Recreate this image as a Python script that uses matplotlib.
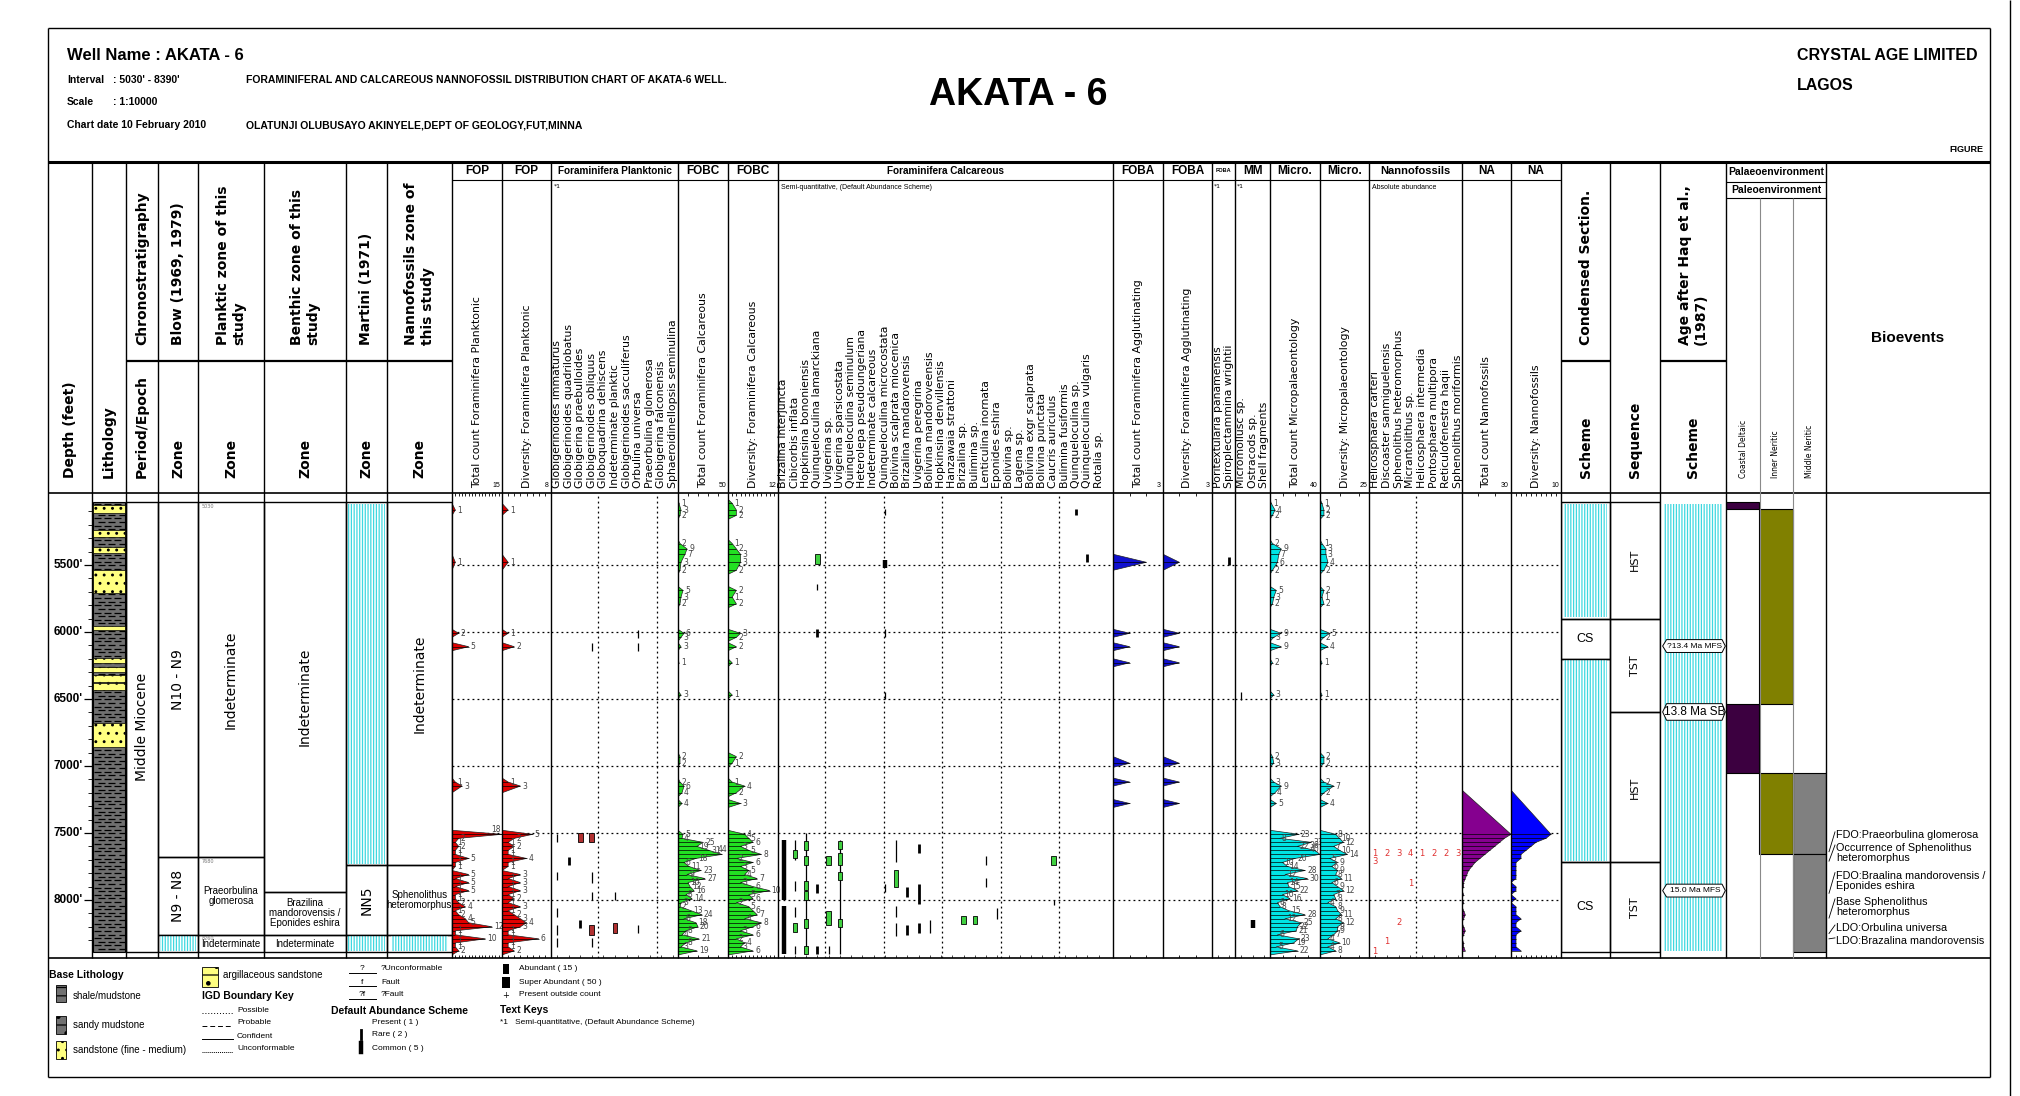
import numpy as np
import matplotlib
matplotlib.use("Agg")
import matplotlib.pyplot as plt
from matplotlib.patches import Rectangle, Polygon
from matplotlib.collections import LineCollection
from matplotlib.transforms import blended_transform_factory

# ---------------- sample depths (feet) ----------------
S_UP = [5040, 5090, 5130, 5340, 5380, 5420, 5480, 5540, 5690, 5740, 5790,
        6010, 6040, 6110, 6230, 6470, 6930, 6980, 7120, 7150, 7200, 7280]
S_DN = [7510, 7540, 7570, 7600, 7630, 7660, 7690, 7720, 7750, 7780,
        7810, 7840, 7870, 7900, 7930, 7960, 7990, 8020, 8050, 8080,
        8110, 8140, 8170, 8200, 8230, 8260, 8290, 8320, 8350, 8380]
foram_depth = S_UP + S_DN
nanno_depth = [7180] + S_DN

# ---------------- counts / diversity ----------------
fop_total = [0, 1, 0, 0, 0, 0, 1, 0, 0, 0, 0, 2, 0, 5, 0, 0, 0, 0, 1, 3, 0, 0,
             18, 2, 1, 2, 1, 1, 5, 1, 1, 0, 5, 1, 5, 1, 5, 1, 1, 2, 4, 1,
             2, 4, 5, 12, 1, 1, 10, 1, 1, 2]
fop_div = [0, 1, 0, 0, 0, 0, 1, 0, 0, 0, 0, 1, 0, 2, 0, 0, 0, 0, 1, 3, 0, 0,
           5, 2, 1, 2, 1, 1, 4, 1, 1, 0, 3, 1, 3, 1, 3, 1, 2, 1, 3, 1,
           2, 3, 4, 3, 1, 1, 6, 1, 1, 2]
fobc_total = [1, 3, 2, 2, 9, 7, 3, 2, 5, 3, 2, 6, 3, 3, 1, 3, 2, 2, 2, 6, 4, 4,
              5, 4, 25, 19, 31, 44, 18, 6, 11, 23, 9, 27, 10, 12, 16, 8, 14, 3, 2, 13,
              24, 6, 18, 20, 8, 4, 21, 8, 3, 19]
fobc_div = [1, 2, 2, 1, 2, 3, 3, 2, 2, 1, 2, 3, 2, 2, 1, 1, 2, 1, 1, 4, 2, 3,
            4, 5, 6, 3, 5, 8, 2, 6, 3, 5, 4, 7, 3, 6, 10, 5, 6, 2, 5, 6,
            7, 4, 8, 6, 3, 6, 2, 4, 3, 6]
foba_total = [0, 0, 0, 0, 0, 0, 2, 0, 0, 0, 0, 1, 0, 1, 1, 0, 0, 1, 1, 0, 0, 1,
              0, 0, 0, 0, 0, 0, 0, 0, 0, 0, 0, 0, 0, 0, 0, 0, 0, 0, 0, 0,
              0, 0, 0, 0, 0, 0, 0, 0, 0, 0]
foba_div = [0, 0, 0, 0, 0, 0, 1, 0, 0, 0, 0, 1, 0, 1, 1, 0, 0, 1, 1, 0, 0, 1,
            0, 0, 0, 0, 0, 0, 0, 0, 0, 0, 0, 0, 0, 0, 0, 0, 0, 0, 0, 0,
            0, 0, 0, 0, 0, 0, 0, 0, 0, 0]
micro_total = [1, 4, 2, 2, 9, 7, 6, 2, 5, 3, 2, 9, 3, 9, 2, 3, 2, 3, 3, 9, 4, 5,
               23, 8, 33, 22, 36, 40, 20, 10, 14, 28, 12, 30, 14, 15, 22, 10, 16, 6, 8, 15,
               28, 12, 25, 22, 21, 6, 23, 19, 5, 22]
micro_div = [1, 2, 2, 1, 3, 3, 4, 2, 2, 1, 2, 5, 2, 4, 1, 1, 2, 2, 2, 7, 2, 4,
             8, 10, 12, 7, 10, 14, 5, 9, 6, 9, 8, 11, 6, 9, 12, 7, 8, 4, 8, 9,
             11, 8, 12, 9, 9, 7, 4, 10, 4, 8]
na_total = [0, 30, 26, 23, 20, 17, 14, 11, 8, 6, 4, 3, 2, 1, 1, 0, 1, 0, 1, 0, 1,
            2, 1, 0, 1, 2, 1, 0, 1, 1, 2]
na_div = [0, 8, 7, 5, 4, 3, 2, 2, 1, 1, 1, 1, 1, 0, 1, 1, 0, 1, 0, 1, 1,
          1, 2, 1, 1, 2, 1, 1, 1, 1, 2]

# ---------------- species ----------------
plank_names = ['Globigerinoides immaturus', 'Globigerinoides quadrilobatus', 'Globigerina praebulloides',
               'Globigerinoides obliquus', 'Globoquadrina dehiscens', 'Indeterminate planktic',
               'Globigerinoides sacculiferus', 'Orbulina universa', 'Praeorbulina glomerosa',
               'Globigerina falconensis', 'Sphaeroidinellopsis seminulina']
calc_names = ['Brizalina interjuncta', 'Cibicorbis inflata', 'Hopkinsina bononiensis',
              'Quinqueloculina lamarckiana', 'Uvigerina sp.', 'Uvigerina sparsicostata',
              'Quinqueloculina seminulum', 'Heterolepa pseudoungeriana', 'Indeterminate calcareous',
              'Quinqueloculina microcostata', 'Bolivina scalprata miocenica', 'Brizalina mandarovensis',
              'Uvigerina peregrina', 'Bolivina mandoroveensis', 'Hopkinsina denvillensis',
              'Hanzawaia strattoni', 'Brizalina sp.', 'Bulimina sp.', 'Lenticulina inornata',
              'Eponides eshira', 'Bolivina sp.', 'Lagena sp.', 'Bolivina exgr scalprata',
              'Bolivina punctata', 'Caucris auriculus', 'Bulimina fusiformis',
              'Quinqueloculina sp.', 'Quinqueloculina vulgaris', 'Rotalia sp.']
foba_names = ['Poritextularia panamensis', 'Spiroplectammina wrightii']
mm_names = ['Micromollusc sp.', 'Ostracods sp.', 'Shell fragments']
nanno_names = ['Helicosphaera carteri', 'Discoaster sanmiguelensis', 'Sphenolithus heteromorphus',
               'Micrantolithus sp.', 'Helicosphaera intermedia', 'Pontosphaera multipora',
               'Reticulofenestra haqii', 'Sphenolithus moriformis']

# occurrences: (top, base, species index, kind) kind 1 present, 2 rare, 3 common, 4 abundant box
plank_occ = [(5985, 6045, 7, 1), (6085, 6145, 7, 1), (6085, 6145, 3, 1),
             (7505, 7565, 0, 1), (7500, 7565, 2, 4), (7500, 7565, 3, 4), (7680, 7740, 1, 2),
             (7790, 7850, 0, 1), (7790, 7875, 3, 1), (7940, 8000, 3, 1), (7940, 8000, 5, 1),
             (8060, 8125, 0, 1), (8150, 8210, 2, 2), (8190, 8260, 0, 1), (8190, 8260, 3, 4),
             (8170, 8250, 5, 4), (8190, 8250, 7, 1), (8285, 8350, 0, 1), (8285, 8350, 3, 1)]
calc_occ = [(7555, 8000, 0, 3), (8045, 8400, 0, 3),
            (7555, 7700, 1, 1), (7625, 7690, 1, 4), (7855, 7935, 1, 1), (8055, 8125, 1, 1),
            (8170, 8240, 1, 4), (8340, 8400, 1, 1),
            (7500, 8400, 2, 1), (7560, 7625, 2, 4), (7675, 7740, 2, 4), (7860, 7925, 2, 4),
            (7935, 8000, 2, 4), (8145, 8210, 2, 4), (8345, 8400, 2, 4),
            (5420, 5490, 3, 4), (5640, 5690, 3, 1), (5975, 6040, 3, 2), (7880, 7950, 3, 2), (8340, 8400, 3, 2),
            (7675, 7740, 4, 4), (8085, 8185, 4, 4), (8345, 8400, 4, 1),
            (7555, 8400, 5, 1), (7560, 7620, 5, 4), (7650, 7740, 5, 4), (7790, 7850, 5, 4), (8140, 8200, 5, 4),
            (5080, 5130, 9, 1), (5460, 5520, 9, 3), (5975, 6040, 9, 1), (6450, 6500, 9, 1), (7880, 7940, 9, 1),
            (7555, 7720, 10, 1), (7780, 7900, 10, 4), (8045, 8125, 10, 1), (8170, 8270, 10, 1),
            (7900, 7980, 11, 2), (8190, 8260, 11, 2),
            (7580, 7650, 12, 2), (7880, 8030, 12, 2), (8170, 8250, 12, 2),
            (8150, 8250, 13, 1), (8120, 8180, 16, 4), (8120, 8180, 17, 4),
            (7675, 7740, 18, 1), (7835, 7900, 18, 1), (8060, 8140, 19, 1),
            (7675, 7740, 24, 4), (8000, 8040, 24, 1),
            (5080, 5130, 26, 2), (5420, 5480, 27, 2)]
foba_occ = [(5440, 5500, 1, 2)]
mm_occ = [(6450, 6510, 0, 1), (8150, 8210, 1, 3)]

nanno_count_depth = [7655, 7655, 7655, 7655, 7655, 7655, 7655, 7655, 7710, 7875, 8165, 8310, 8385]
nanno_count_idx = [0, 1, 2, 3, 4, 5, 6, 7, 0, 3, 2, 1, 0]
nanno_count = [1, 2, 3, 4, 1, 2, 2, 3, 3, 1, 2, 1, 1]

# ---------------- zones ----------------
chrono_zones = [(5030, 8390, 'Middle Miocene')]
blow_zones = [(5030, 7680, 'N10 - N9'), (7680, 8260, 'N9 - N8'), (8260, 8390, '')]
planktic_zones = [(5030, 7680, 'Indeterminate'), (7680, 8260, 'Praeorbulina\nglomerosa'),
                  (8260, 8390, 'Indeterminate')]
benthic_zones = [(5030, 7940, 'Indeterminate'),
                 (7940, 8260, 'Brazilina\nmandorovensis /\nEponides eshira'),
                 (8260, 8390, 'Indeterminate')]
martini_zones = [(5030, 7740, ''), (7740, 8260, 'NN5'), (8260, 8390, '')]
nanno_zones = [(5030, 7740, 'Indeterminate'), (7740, 8260, 'Sphenolithus\nheteromorphus'),
               (8260, 8390, '')]
cs_zones = [(5030, 5900, ''), (5900, 6200, 'CS'), (6200, 7720, ''), (7720, 8390, 'CS')]
seq_zones = [(5030, 5900, 'HST'), (5900, 6600, 'TST'), (6600, 7720, 'HST'), (7720, 8390, 'TST')]
age_labels = ['?13.4 Ma MFS', '13.8 Ma SB', '15.0 Ma MFS']
age_depth = [6105, 6597, 7930]

sand_top = [5050, 5240, 5365, 5535, 5955, 6195, 6260, 6320, 6380, 6680]
sand_base = [5110, 5290, 5410, 5710, 5985, 6230, 6300, 6370, 6430, 6860]

paleo_env = ['Coastal Deltaic', 'Inner Neritic', 'Middle Neritic']
paleo_col = [0, 1, 0, 1, 2, 2]
paleo_top = [5030, 5085, 6535, 7050, 7050, 7660]
paleo_base = [5085, 6535, 7050, 7660, 7660, 8390]
paleo_color = ['#3c0040', '#808000', '#3c0040', '#808000', '#808080', '#808080']

bio_text = ['FDO:Praeorbulina glomerosa', 'Occurrence of Sphenolithus\nheteromorphus',
            'FDO:Braalina mandorovensis /\nEponides eshira', 'Base Sphenolithus\nheteromorphus',
            'LDO:Orbulina universa', 'LDO:Brazalina mandorovensis']
bio_depth = [7522, 7620, 7826, 8022, 8217, 8313]
bio_event_depth = [7640, 7710, 7950, 8135, 8250, 8290]

depth_major = [5500, 6000, 6500, 7000, 7500, 8000]

# ---------------- layout ----------------
W, H = 2020, 1096
Y_TOP, Y_BOT = 493, 958
D_TOP, D_BOT = 4963, 8433
NARROW = 'Liberation Sans'
NB = dict(family=NARROW, weight='bold')
CYAN = '#3fd8e0'
plt.rcParams['font.family'] = ['DejaVu Sans']
plt.rcParams['hatch.linewidth'] = 0.9

fig = plt.figure(figsize=(W / 100, H / 100), dpi=100, facecolor='white')
cv = fig.add_axes([0, 0, 1, 1])
cv.set_xlim(0, W)
cv.set_ylim(H, 0)
cv.axis('off')


def panel(x0, x1, xlim):
    ax = fig.add_axes([x0 / W, 1 - Y_BOT / H, (x1 - x0) / W, (Y_BOT - Y_TOP) / H])
    ax.set_xlim(*xlim)
    ax.set_ylim(D_BOT, D_TOP)
    ax.axis('off')
    return ax


def depth_grid(ax):
    for d in depth_major:
        ax.axhline(d, color='k', lw=0.9, ls=(0, (1.5, 2.5)), zorder=1)


def vtext(x, y, s, **kw):
    cv.text(x, y, s, rotation=90, ha='center', va='bottom', multialignment='left', **kw)


def top_label(x0, x1, s, size=None):
    if size is None:
        size = 8.5 if len(s) <= 6 else 7.2
    cv.text((x0 + x1) / 2, 171, s, ha='center', va='center', fontsize=size, **NB)


def spike_xy(depth, vals, gap):
    ys, xs = [], []
    n = len(depth)
    for i in range(n):
        if gap and (i == 0 or depth[i] - depth[i - 1] > gap):
            ys.append(depth[i] - gap / 2)
            xs.append(0)
        ys.append(depth[i])
        xs.append(vals[i])
        if gap and (i == n - 1 or depth[i + 1] - depth[i] > gap):
            ys.append(depth[i] + gap / 2)
            xs.append(0)
    return np.array(xs, float), np.array(ys, float)


def curve_panel(x0, x1, top, label, vmax, depth, vals, color, gap=60, numbers=True):
    ax = panel(x0, x1, (0, vmax))
    depth_grid(ax)
    xs, ys = spike_xy(depth, vals, gap)
    xs = np.minimum(xs, vmax)
    ax.fill_betweenx(ys, 0, xs, facecolor=color, edgecolor='none', zorder=2)
    ax.plot(xs, ys, color='#202020', lw=0.5, zorder=3)
    for d, v in zip(depth, vals):
        if v > 0:
            ax.hlines(d, 0, min(v, vmax), color='k', lw=0.5, zorder=3)
            if numbers:
                if v >= vmax * 0.85:
                    ax.text(vmax * 0.98, d, str(v), ha='right', va='bottom', fontsize=5.5,
                            color='#444444', zorder=4)
                else:
                    ax.text(v + vmax * 0.04, d, str(v), ha='left', va='center', fontsize=5.5,
                            color='#444444', zorder=4)
    step = 1 if vmax <= 15 else 10
    tk = np.arange(0, vmax + 0.1, step)
    ax.vlines(tk, D_TOP, D_TOP + 22, color='k', lw=0.6)
    ax.vlines(tk, D_BOT - 22, D_BOT, color='k', lw=0.6)
    top_label(x0, x1, top)
    vtext((x0 + x1) / 2, 488, label, fontsize=7.8)
    cv.text(x1 - 2, 489, str(vmax), ha='right', va='bottom', fontsize=5, family=NARROW)
    return ax


KIND_LW = {1: 0.9, 2: 2.0, 3: 3.2}


def species_panel(x0, x1, first, sp, top, names, occ, box_color, top_size=None):
    ax = panel(x0, x1, ((x0 - first) / sp, (x1 - first) / sp))
    depth_grid(ax)
    for xg in np.arange(x0 + 47, x1 - 3, 58.5):
        ax.axvline((xg - first) / sp, color='k', lw=0.9, ls=(0, (1.5, 2.5)), zorder=1)
    tr = blended_transform_factory(ax.transData, ax.transAxes)
    for i, n in enumerate(names):
        ax.text(i, (Y_BOT - 488) / (Y_BOT - Y_TOP), n, rotation=90, ha='center', va='bottom',
                fontsize=7.8, transform=tr, clip_on=False)
    for t, b, i, k in occ:
        if k == 4:
            ax.add_patch(Rectangle((i - 0.2, t), 0.4, b - t, facecolor=box_color,
                                   edgecolor='k', lw=0.6, zorder=3))
        else:
            ax.vlines(i, t, b, color='k', lw=KIND_LW[k], zorder=3)
    ax.vlines(np.arange(len(names)), D_BOT - 22, D_BOT, color='k', lw=0.5)
    top_label(x0, x1, top, top_size)
    return ax


def zone_panel(x0, x1, zones, tops=False):
    ax = panel(x0, x1, (0, 1))
    for top, base, lab in zones:
        if lab:
            mid = (top + base) / 2
            if base - top > 1000 or len(lab) <= 7:
                ax.text(0.5, mid, lab, rotation=90, ha='center', va='center', fontsize=10)
            else:
                ax.text(0.5, mid, lab, ha='center', va='center', fontsize=7, family=NARROW,
                        linespacing=1.0)
            if tops:
                ax.text(0.06, top + 12, str(top), ha='left', va='top', fontsize=3.5, color='#777777')
        else:
            ax.add_patch(Rectangle((0.06, top + 12), 0.88, base - top - 24, facecolor='white',
                                   edgecolor=CYAN, hatch='||||||', lw=0))
        ax.add_patch(Rectangle((0, top), 1, base - top, fill=False, edgecolor='k', lw=1.0))
    return ax


# ---------------- header band ----------------
cv.text(67, 56, 'Well Name : AKATA - 6', fontsize=12, va='center', **NB)
cv.text(67, 80, 'Interval', fontsize=7.5, va='center', **NB)
cv.text(113, 80, ": 5030' - 8390'", fontsize=7.5, va='center', **NB)
cv.text(67, 102, 'Scale', fontsize=7.5, va='center', **NB)
cv.text(113, 102, ': 1:10000', fontsize=7.5, va='center', **NB)
cv.text(67, 125, 'Chart date 10 February 2010', fontsize=7.5, va='center', **NB)
cv.text(246, 80, 'FORAMINIFERAL AND CALCAREOUS NANNOFOSSIL DISTRIBUTION CHART OF AKATA-6 WELL.',
        fontsize=7.5, va='center', **NB)
cv.text(246, 125, 'OLATUNJI OLUBUSAYO AKINYELE,DEPT OF GEOLOGY,FUT,MINNA', fontsize=7.5, va='center', **NB)
cv.text(1018, 95, 'AKATA - 6', fontsize=27, ha='center', va='center', **NB)
cv.text(1797, 56, 'CRYSTAL AGE LIMITED', fontsize=11.5, va='center', **NB)
cv.text(1797, 86, 'LAGOS', fontsize=11.5, va='center', **NB)
cv.text(1983, 149, 'FIGURE', fontsize=6.5, ha='right', va='center', **NB)

# ---------------- left header ----------------
left_x = [(48, 92), (92, 126), (126, 158), (158, 198), (198, 264), (264, 346), (346, 387), (387, 452)]
left_upper = ['', '', 'Chronostratigraphy', 'Blow (1969, 1979)', 'Planktic zone of this\nstudy',
              'Benthic zone of this\nstudy', 'Martini (1971)', 'Nannofossils zone of\nthis study']
left_lower = ['Depth (feet)', 'Lithology', 'Period/Epoch', 'Zone', 'Zone', 'Zone', 'Zone', 'Zone']
for (a, b), up, lo in zip(left_x, left_upper, left_lower):
    if up:
        vtext((a + b) / 2, 345, up, fontsize=10, weight='bold')
    vtext((a + b) / 2, 478, lo, fontsize=10, weight='bold')

# right header
vtext(1586, 345, 'Condensed Section.', fontsize=10, weight='bold')
vtext(1586, 478, 'Scheme', fontsize=10, weight='bold')
vtext(1635, 478, 'Sequence', fontsize=10, weight='bold')
vtext(1693, 345, 'Age after Haq et al.,\n(1987)', fontsize=10, weight='bold')
vtext(1693, 478, 'Scheme', fontsize=10, weight='bold')
cv.text(1776, 172, 'Palaeoenvironment', ha='center', va='center', fontsize=7.5, **NB)
cv.text(1776, 190, 'Paleoenvironment', ha='center', va='center', fontsize=7.5, **NB)
for xc, name in zip([1743, 1776, 1810], paleo_env):
    vtext(xc, 478, name, fontsize=5.5)
cv.text(1908, 338, 'Bioevents', ha='center', va='center', fontsize=11, **NB)

# ---------------- depth + lithology ----------------
axd = panel(48, 92, (0, 44))
minor = np.arange(5100, 8400, 100)
axd.hlines(minor, 40, 44, color='k', lw=0.6)
axd.hlines(depth_major, 36, 44, color='k', lw=0.9)
for d in depth_major:
    axd.text(35, d, f"{d}'", ha='right', va='center', fontsize=8.5, **NB)

axl = panel(92, 126, (0, 1))
axl.add_patch(Rectangle((0.02, 5030), 0.96, 3360, facecolor='#707070', edgecolor='k', lw=0.8))
segs = []
for r, y in enumerate(np.arange(5045, 8385, 27)):
    off = 0.12 if r % 2 else 0.0
    for x in (0.06, 0.36, 0.66):
        segs.append([(x + off, y), (x + off + 0.2, y)])
axl.add_collection(LineCollection(segs, colors='k', linewidths=0.9))
for t, b in zip(sand_top, sand_base):
    axl.add_patch(Rectangle((0.02, t), 0.96, b - t, facecolor='#ffff80', edgecolor='k',
                            hatch='..', lw=0.5, zorder=3))

zone_panel(126, 158, chrono_zones)
zone_panel(158, 198, blow_zones)
zone_panel(198, 264, planktic_zones, tops=True)
zone_panel(264, 346, benthic_zones)
zone_panel(346, 387, martini_zones)
zone_panel(387, 452, nanno_zones)

# ---------------- fossil panels ----------------
curve_panel(452, 502, 'FOP', 'Total count Foraminifera Planktonic', 15, foram_depth, fop_total, '#e00000')
curve_panel(502, 551, 'FOP', 'Diversity: Foraminifera Planktonic', 8, foram_depth, fop_div, '#e00000')
species_panel(551, 678, 557, 11.6, 'Foraminifera Planktonic', plank_names, plank_occ, '#b03030')
curve_panel(678, 728, 'FOBC', 'Total count Foraminifera Calcareous', 50, foram_depth, fobc_total, '#22e022')
curve_panel(728, 778, 'FOBC', 'Diversity: Foraminifera Calcareous', 12, foram_depth, fobc_div, '#22e022')
species_panel(778, 1113, 783.5, 11.25, 'Foraminifera Calcareous', calc_names, calc_occ, '#40d040')
curve_panel(1113, 1163, 'FOBA', 'Total count Foraminifera Agglutinating', 3, foram_depth, foba_total,
            '#1010d0', numbers=False)
curve_panel(1163, 1212, 'FOBA', 'Diversity: Foraminifera Agglutinating', 3, foram_depth, foba_div,
            '#1010d0', numbers=False)
species_panel(1212, 1235, 1218, 11, 'FOBA', foba_names, foba_occ, '#1010d0', top_size=4)
species_panel(1235, 1270, 1241, 11.5, 'MM', mm_names, mm_occ, '#888888')
curve_panel(1270, 1320, 'Micro.', 'Total count Micropalaeontology', 40, foram_depth, micro_total, '#00e4e4')
curve_panel(1320, 1369, 'Micro.', 'Diversity: Micropalaeontology', 25, foram_depth, micro_div, '#00e4e4')
axn = species_panel(1369, 1462, 1375, 11.8, 'Nannofossils', nanno_names, [], '#888888', top_size=8)
for d, i, v in zip(nanno_count_depth, nanno_count_idx, nanno_count):
    axn.text(i, d, str(v), ha='center', va='center', fontsize=6, color='#e03030')
curve_panel(1462, 1511, 'NA', 'Total count Nannofossils', 30, nanno_depth, na_total, '#85008f',
            gap=None, numbers=False)
curve_panel(1511, 1561, 'NA', 'Diversity: Nannofossils', 10, nanno_depth, na_div, '#0000ff',
            gap=None, numbers=False)

cv.text(554, 184, '*1', fontsize=4.5, va='top')
cv.text(1214, 184, '*1', fontsize=4.5, va='top')
cv.text(1237, 184, '*1', fontsize=4.5, va='top')
cv.text(781, 184, 'Semi-quantitative, (Default Abundance Scheme)', fontsize=5, va='top', family=NARROW)
cv.text(1372, 184, 'Absolute abundance', fontsize=5, va='top', family=NARROW)

# ---------------- right columns ----------------
axc = panel(1561, 1610, (0, 1))
for top, base, lab in cs_zones:
    if lab:
        axc.text(0.5, (top + base) / 2, lab, ha='center', va='center', fontsize=9, family=NARROW)
    else:
        axc.add_patch(Rectangle((0.06, top + 12), 0.88, base - top - 24, facecolor='white',
                                edgecolor=CYAN, hatch='||||||', lw=0))
    axc.add_patch(Rectangle((0, top), 1, base - top, fill=False, edgecolor='k', lw=1.0))

axs = panel(1610, 1660, (0, 1))
for top, base, lab in seq_zones:
    axs.add_patch(Rectangle((0, top), 1, base - top, fill=False, edgecolor='k', lw=1.0))
    axs.text(0.5, (top + base) / 2, lab, rotation=90, ha='center', va='center', fontsize=8)

axa = panel(1660, 1726, (0, 1))
axa.add_patch(Rectangle((0.06, 5042), 0.88, 3336, facecolor='white', edgecolor=CYAN,
                        hatch='||||||', lw=0))
for lab, d in zip(age_labels, age_depth):
    big = lab.startswith('13.8')
    h = 62 if big else 48
    axa.add_patch(Polygon([(0.04, d), (0.1, d - h), (0.94, d - h), (0.99, d), (0.94, d + h), (0.1, d + h)],
                          closed=True, facecolor='white', edgecolor='k', lw=0.7, zorder=3))
    axa.text(0.53, d, lab, ha='center', va='center', fontsize=8.5 if big else 6,
             family=NARROW, zorder=4)

axp = panel(1726, 1826, (0, 3))
for c, t, b, col in zip(paleo_col, paleo_top, paleo_base, paleo_color):
    axp.add_patch(Rectangle((c, t), 1, b - t, facecolor=col, edgecolor='k', lw=0.8))

axb = panel(1826, 1990, (0, 164))
for s, d, e in zip(bio_text, bio_depth, bio_event_depth):
    axb.text(10, d - 42, s, ha='left', va='top', fontsize=7.8, family=NARROW, linespacing=0.95)
    axb.plot([3, 9], [e, d - 30], color='k', lw=0.6)

# ---------------- legend ----------------
LG = dict(family=NARROW, va='center')
cv.text(49, 975, 'Base Lithology', fontsize=7.5, weight='bold', **LG)
cv.add_patch(Rectangle((56, 985), 10, 17, facecolor='#707070', edgecolor='k', hatch='--', lw=0.6))
cv.text(73, 996, 'shale/mudstone', fontsize=7, **LG)
cv.add_patch(Rectangle((56, 1016), 10, 18, facecolor='#707070', edgecolor='k', hatch='-.', lw=0.6))
cv.text(73, 1025, 'sandy mudstone', fontsize=7, **LG)
cv.add_patch(Rectangle((56, 1041), 10, 18, facecolor='#ffff80', edgecolor='k', hatch='..', lw=0.6))
cv.text(73, 1050, 'sandstone (fine - medium)', fontsize=7, **LG)
cv.add_patch(Rectangle((202, 967), 16, 20, facecolor='#ffff80', edgecolor='k', hatch='-.', lw=0.6))
cv.text(223, 975, 'argillaceous sandstone', fontsize=7, **LG)
cv.text(202, 996, 'IGD Boundary Key', fontsize=7.5, weight='bold', **LG)
for y, lab, ls in [(1010, 'Possible', (0, (1, 2))), (1023, 'Probable', (0, (5, 3))),
                   (1036, 'Confident', '-'), (1049, 'Unconformable', (0, (1, 1)))]:
    cv.plot([202, 233], [y + 3, y + 3], color='k', lw=0.7, ls=ls)
    cv.text(237, y, lab, fontsize=6, **LG)
for y, lab, sym in [(969, '?Unconformable', '?'), (982, 'Fault', 'f'), (995, '?Fault', '?f')]:
    cv.plot([349, 376], [y + 4, y + 4], color='k', lw=0.7)
    cv.text(362, y, sym, fontsize=6, ha='center', family=NARROW, va='center')
    cv.text(381, y, lab, fontsize=6, **LG)
cv.text(331, 1011, 'Default Abundance Scheme', fontsize=7.5, weight='bold', **LG)
cv.text(372, 1023, 'Present ( 1 )', fontsize=6, **LG)
cv.plot([361, 361], [1030, 1039], color='k', lw=2.0)
cv.text(372, 1035, 'Rare ( 2 )', fontsize=6, **LG)
cv.plot([361, 361], [1043, 1052], color='k', lw=3.2)
cv.text(372, 1048, 'Common ( 5 )', fontsize=6, **LG)
cv.add_patch(Rectangle((503, 964), 6, 10, facecolor='k'))
cv.text(519, 969, 'Abundant ( 15 )', fontsize=6, **LG)
cv.add_patch(Rectangle((502, 977), 8, 11, facecolor='k'))
cv.text(519, 982, 'Super Abundant ( 50 )', fontsize=6, **LG)
cv.text(506, 995, '+', fontsize=6, ha='center', va='center')
cv.text(519, 995, 'Present outside count', fontsize=6, **LG)
cv.text(500, 1010, 'Text Keys', fontsize=7.5, weight='bold', **LG)
cv.text(500, 1022, '*1   Semi-quantitative, (Default Abundance Scheme)', fontsize=6, **LG)

# ---------------- frame lines (on top) ----------------
ov = fig.add_axes([0, 0, 1, 1])
ov.set_xlim(0, W)
ov.set_ylim(H, 0)
ov.axis('off')


def seg(x0, y0, x1, y1, lw=1.0, color='k'):
    ov.plot([x0, x1], [y0, y1], color=color, lw=lw, solid_capstyle='butt')


seg(48, 28, 1990, 28)
seg(48, 1077, 1990, 1077)
seg(48, 28, 48, 1077)
seg(1990, 28, 1990, 1077)
seg(2010, 0, 2010, H)
seg(48, 162, 1990, 162, lw=2.2)
seg(48, 493, 1990, 493, lw=1.2)
seg(48, 958, 1990, 958, lw=1.2)
for x in [92, 126, 158, 198, 264, 346, 387, 452, 502, 551, 678, 728, 778, 1113, 1163, 1212, 1235,
          1270, 1320, 1369, 1462, 1511, 1561, 1610, 1660, 1726, 1826]:
    seg(x, 162, x, 958, lw=1.0)
seg(126, 361, 452, 361, lw=1.6)
seg(1561, 361, 1610, 361, lw=1.6)
seg(1660, 361, 1726, 361, lw=1.6)
seg(452, 180, 1561, 180, lw=0.8)
seg(1726, 182, 1826, 182, lw=0.8)
seg(1726, 198, 1826, 198, lw=0.8)
seg(1760, 198, 1760, 958, lw=0.8, color='#8a8a8a')
seg(1793, 198, 1793, 958, lw=0.8, color='#8a8a8a')

fig.savefig('out.png', dpi=100, facecolor='white')
